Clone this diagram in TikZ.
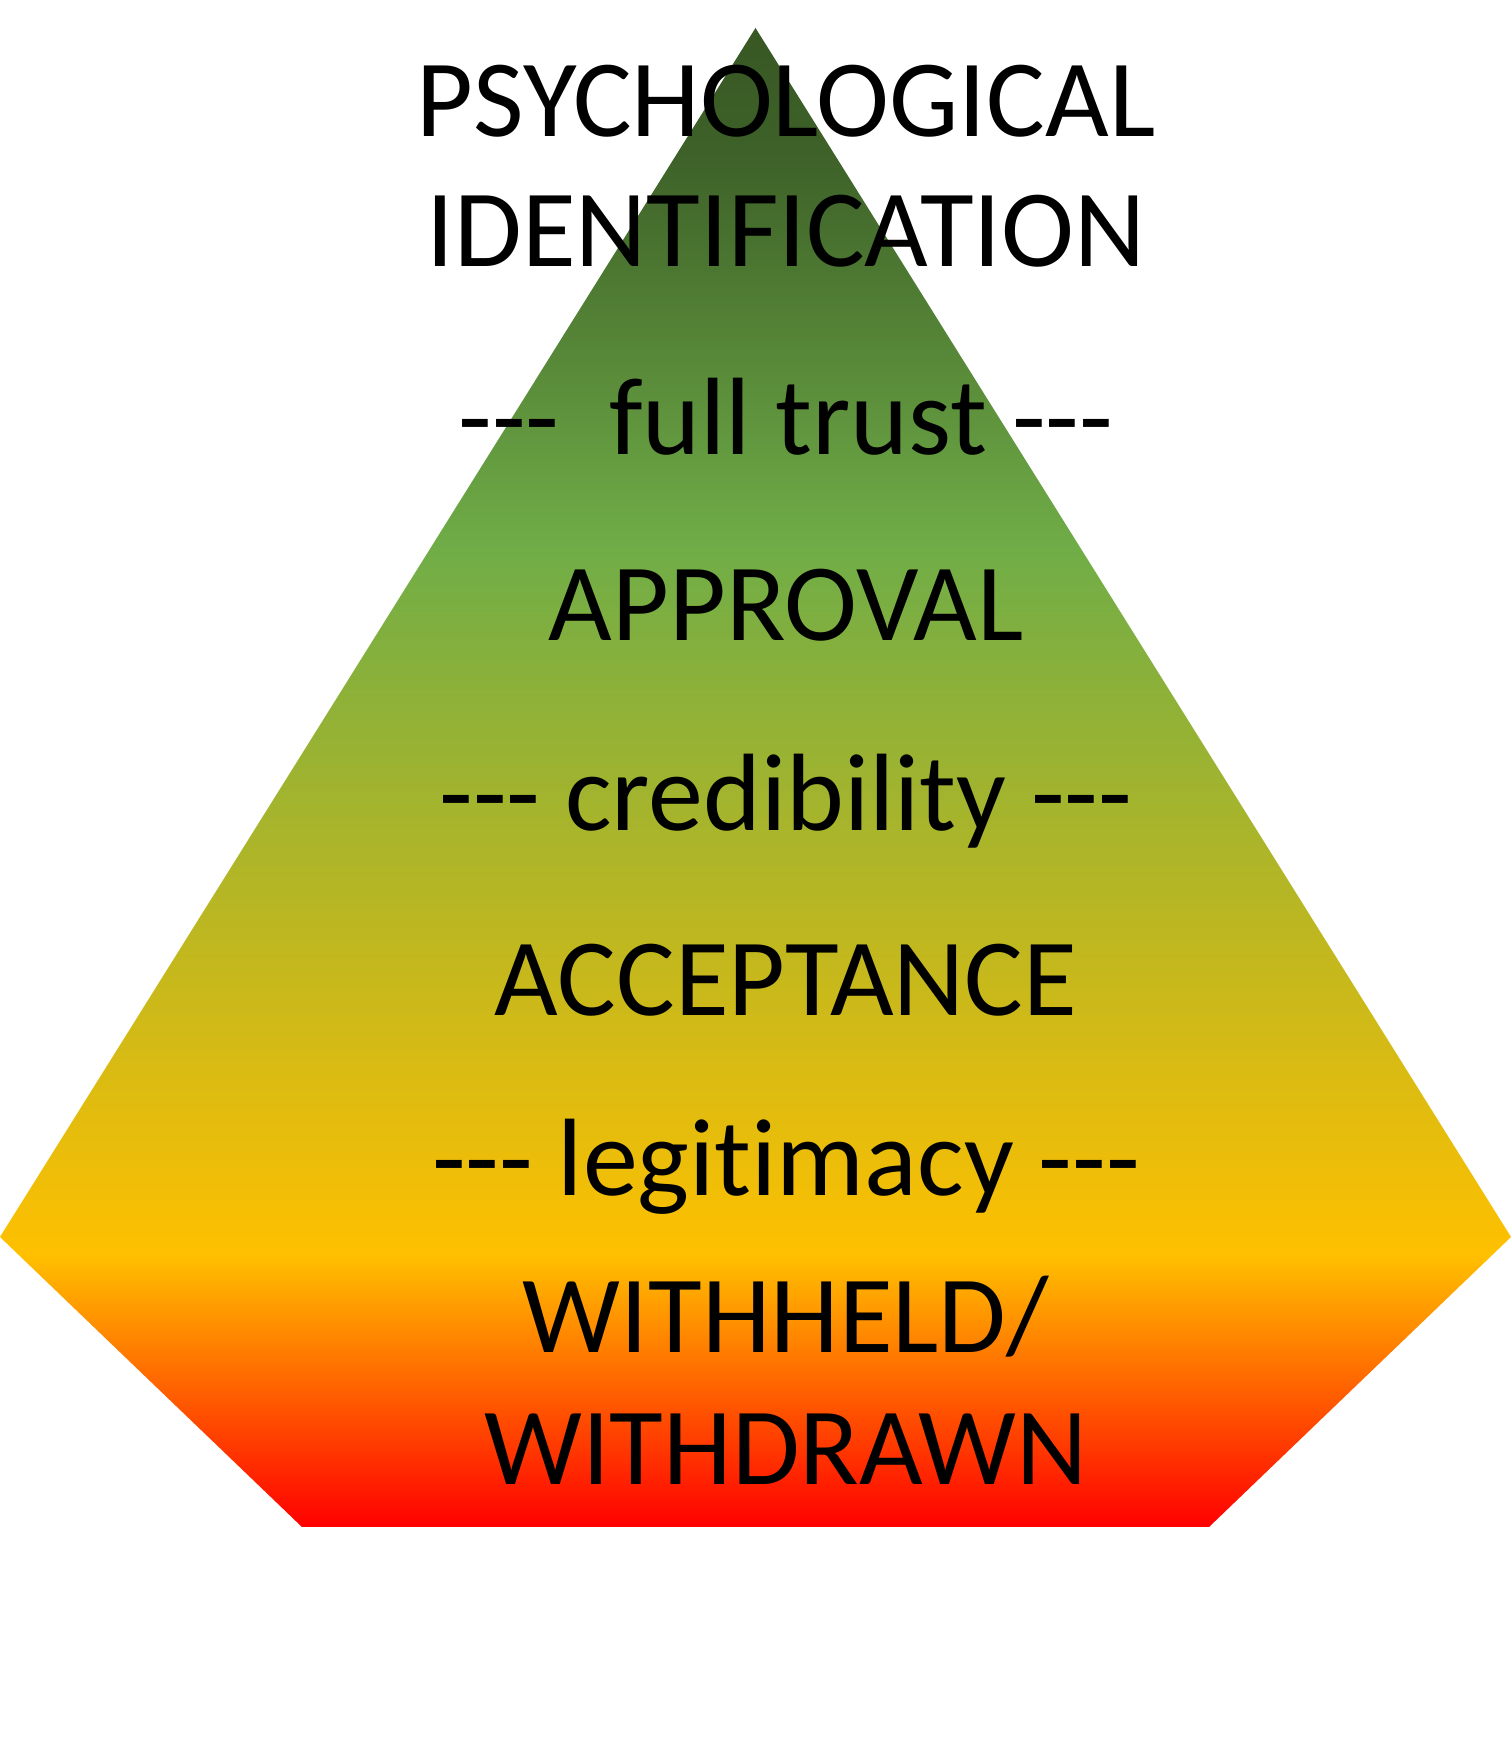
\documentclass[tikz,border=0pt]{standalone}
\usepackage{fontspec}
\setmainfont{Carlito}[Ligatures={TeXOff,NoCommon}]
\definecolor{PyrTop}{HTML}{385723}
\definecolor{PyrDeep}{HTML}{3E6229}
\definecolor{PyrGreen}{HTML}{70AD47}
\definecolor{PyrGold}{HTML}{FFC000}
\definecolor{PyrRed}{HTML}{FF0000}
\pgfdeclareverticalshading{pyramidfill}{100bp}{%
    color(0bp)=(PyrRed); color(25bp)=(PyrRed);
    color(34.07bp)=(PyrGold); color(57.59bp)=(PyrGreen);
    color(70.6bp)=(PyrDeep); color(75bp)=(PyrTop); color(100bp)=(PyrTop)}
\tikzset{
    pyr/diagram/.style={
        x=0.5pt, y=0.5pt,
        every node/.style={inner sep=0pt, outer sep=0pt}
    },
    pyr/body/.style={shading=pyramidfill, draw=none},
    pyr/level/.style={anchor=base, text=black,
        font=\fontsize{55}{66}\selectfont},
    pyr/threshold/.style={pyr/level}
}

\begin{document}
\begin{tikzpicture}[pyr/diagram]
    \useasboundingbox (0,0) rectangle (1511,1760);
    \shade[pyr/body] (755.5,1732) -- (1511,523) -- (1209,233)
                     -- (302,233) -- (0,523) -- cycle;

    \node[pyr/level] (psych) at (786,1623) {PSYCHOLOGICAL};
    \node[pyr/level] (ident) at (786,1493) {IDENTIFICATION};
    \node[pyr/threshold] (trust) at (786,1305) {---\ \ full trust ---};
    \node[pyr/level] (approval) at (786,1119) {APPROVAL};
    \node[pyr/threshold] (cred) at (786,929) {--- credibility ---};
    \node[pyr/level] (accept) at (786,744) {ACCEPTANCE};
    \node[pyr/threshold] (legit) at (786,564) {--- legitimacy ---};
    \node[pyr/level] (withheld) at (786,407) {WITHHELD/};
    \node[pyr/level] (withdrawn) at (786,275) {WITHDRAWN};
\end{tikzpicture}
\end{document}
